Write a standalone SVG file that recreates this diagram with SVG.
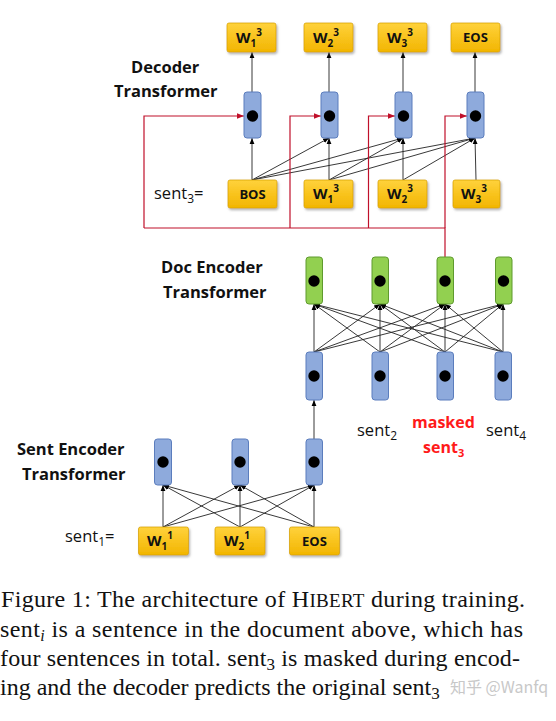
<svg xmlns="http://www.w3.org/2000/svg" width="556" height="721" viewBox="0 0 556 721">
<defs>
<style>
.lbl{font-family:"Open Sans","Liberation Sans",sans-serif;font-weight:bold;font-size:16.5px;fill:#111}
.bt{font-family:"Open Sans","Liberation Sans",sans-serif;font-weight:bold;font-size:13px;fill:#111;text-anchor:middle}
.wt{font-family:"Open Sans","Liberation Sans",sans-serif;font-weight:bold;font-size:15px;fill:#111;text-anchor:middle}
.st{font-family:"Open Sans","Liberation Sans",sans-serif;font-size:16.5px;fill:#111}
.red{font-family:"Open Sans","Liberation Sans",sans-serif;font-weight:bold;font-size:16px;fill:#ff1a1a}
.cap{font-family:"Liberation Serif","Times New Roman",serif;font-size:24px;fill:#111}
.box{fill:url(#yg);stroke:#d9a400;stroke-width:0.8;filter:url(#sh)}
.blue{fill:#8eaadc;stroke:#5b7dbd;stroke-width:1}
.green{fill:#92d050;stroke:#5f9a2e;stroke-width:1}
.ln{stroke:#222;stroke-width:0.9;fill:none;marker-end:url(#ah)}
.rl{stroke:#c0102a;stroke-width:1.2;fill:none}
</style>
<linearGradient id="yg" x1="0" y1="0" x2="0" y2="1">
<stop offset="0" stop-color="#ffd23c"/>
<stop offset="1" stop-color="#f2b500"/>
</linearGradient>
<filter id="sh" x="-20%" y="-20%" width="150%" height="160%">
<feDropShadow dx="1.2" dy="1.8" stdDeviation="1" flood-color="#777" flood-opacity="0.55"/>
</filter>
<marker id="ah" viewBox="0 0 10 10" refX="10" refY="5" markerWidth="6" markerHeight="6" markerUnits="userSpaceOnUse" orient="auto">
<path d="M0,1 L10,5 L0,9 z" fill="#000"/>
</marker>
<marker id="rah" viewBox="0 0 10 10" refX="10" refY="5" markerWidth="7" markerHeight="7" markerUnits="userSpaceOnUse" orient="auto">
<path d="M0,1 L10,5 L0,9 z" fill="#c0102a"/>
</marker>
</defs>
<rect width="556" height="721" fill="#fff"/>

<g id="connectors">
<path class="ln" d="M252,92 V52"/>
<path class="ln" d="M329,92 V52"/>
<path class="ln" d="M403,92 V52"/>
<path class="ln" d="M475,92 V52"/>
<path class="ln" d="M252,180 L252,138"/>
<path class="ln" d="M252,180 L329,138"/>
<path class="ln" d="M252,180 L403,138"/>
<path class="ln" d="M252,180 L475,138"/>
<path class="ln" d="M329,180 L329,138"/>
<path class="ln" d="M329,180 L403,138"/>
<path class="ln" d="M329,180 L475,138"/>
<path class="ln" d="M403,180 L403,138"/>
<path class="ln" d="M403,180 L475,138"/>
<path class="ln" d="M476,180 L475,138"/>
<path class="rl" d="M445,257 V228 H144"/>
<path class="rl" d="M144,228 V116 H244" marker-end="url(#rah)"/>
<path class="rl" d="M290,228 V116 H321" marker-end="url(#rah)"/>
<path class="rl" d="M368.5,228 V116 H395" marker-end="url(#rah)"/>
<path class="rl" d="M445,228 V116 H467" marker-end="url(#rah)"/>
<path class="ln" d="M314,352 L314,304"/>
<path class="ln" d="M314,352 L380,304"/>
<path class="ln" d="M314,352 L445,304"/>
<path class="ln" d="M314,352 L503,304"/>
<path class="ln" d="M380,352 L314,304"/>
<path class="ln" d="M380,352 L380,304"/>
<path class="ln" d="M380,352 L445,304"/>
<path class="ln" d="M380,352 L503,304"/>
<path class="ln" d="M445,352 L314,304"/>
<path class="ln" d="M445,352 L380,304"/>
<path class="ln" d="M445,352 L445,304"/>
<path class="ln" d="M445,352 L503,304"/>
<path class="ln" d="M503,352 L314,304"/>
<path class="ln" d="M503,352 L380,304"/>
<path class="ln" d="M503,352 L445,304"/>
<path class="ln" d="M503,352 L503,304"/>
<path class="ln" d="M314,439 V400"/>
<path class="ln" d="M163,527 L163,485"/>
<path class="ln" d="M163,527 L240,485"/>
<path class="ln" d="M163,527 L314,485"/>
<path class="ln" d="M240,527 L163,485"/>
<path class="ln" d="M240,527 L240,485"/>
<path class="ln" d="M240,527 L314,485"/>
<path class="ln" d="M314,527 L163,485"/>
<path class="ln" d="M314,527 L240,485"/>
<path class="ln" d="M314,527 L314,485"/>
</g>

<g id="decoder-label">
<text class="lbl" x="131" y="73">Decoder</text>
<text class="lbl" x="114" y="97">Transformer</text>
</g>
<g id="doc-label">
<text class="lbl" x="161" y="273">Doc Encoder</text>
<text class="lbl" x="163" y="298">Transformer</text>
</g>
<g id="sent-label">
<text class="lbl" x="17" y="455">Sent Encoder</text>
<text class="lbl" x="22" y="480">Transformer</text>
</g>

<g id="out1"><rect class="box" x="227" y="23" width="49" height="29" rx="2"/><text class="wt" x="249" y="43">W<tspan dy="4" font-size="10">1</tspan><tspan dy="-11" font-size="10">3</tspan></text></g>
<g id="out2"><rect class="box" x="304" y="23" width="49" height="29" rx="2"/><text class="wt" x="326" y="43">W<tspan dy="4" font-size="10">2</tspan><tspan dy="-11" font-size="10">3</tspan></text></g>
<g id="out3"><rect class="box" x="378" y="23" width="49" height="29" rx="2"/><text class="wt" x="400" y="43">W<tspan dy="4" font-size="10">3</tspan><tspan dy="-11" font-size="10">3</tspan></text></g>
<g id="out4"><rect class="box" x="451" y="23" width="49" height="29" rx="2"/><text class="bt" x="475.5" y="42">EOS</text></g>

<g id="dec1"><rect class="blue" x="244" y="92" width="17" height="46" rx="3"/><circle cx="252.5" cy="116" r="5.7"/></g>
<g id="dec2"><rect class="blue" x="321" y="92" width="17" height="46" rx="3"/><circle cx="329.5" cy="116" r="5.7"/></g>
<g id="dec3"><rect class="blue" x="395" y="92" width="17" height="46" rx="3"/><circle cx="403.5" cy="116" r="5.7"/></g>
<g id="dec4"><rect class="blue" x="467" y="92" width="17" height="46" rx="3"/><circle cx="475.5" cy="116" r="5.7"/></g>

<g id="sent3-label"><text class="st" x="154" y="199">sent<tspan dy="4" font-size="12">3</tspan><tspan dy="-4">=</tspan></text></g>
<g id="in1"><rect class="box" x="228" y="180" width="49" height="28" rx="2"/><text class="bt" x="252.5" y="199">BOS</text></g>
<g id="in2"><rect class="box" x="304" y="180" width="49" height="28" rx="2"/><text class="wt" x="326" y="199">W<tspan dy="4" font-size="10">1</tspan><tspan dy="-11" font-size="10">3</tspan></text></g>
<g id="in3"><rect class="box" x="378" y="180" width="49" height="28" rx="2"/><text class="wt" x="400" y="199">W<tspan dy="4" font-size="10">2</tspan><tspan dy="-11" font-size="10">3</tspan></text></g>
<g id="in4"><rect class="box" x="453" y="180" width="47" height="28" rx="2"/><text class="wt" x="474" y="199">W<tspan dy="4" font-size="10">3</tspan><tspan dy="-11" font-size="10">3</tspan></text></g>

<g id="g1"><rect class="green" x="306" y="257" width="16.5" height="47" rx="3"/><circle cx="314" cy="281" r="5.7"/></g>
<g id="g2"><rect class="green" x="372" y="257" width="16.5" height="47" rx="3"/><circle cx="380" cy="281" r="5.7"/></g>
<g id="g3"><rect class="green" x="437" y="257" width="16.5" height="47" rx="3"/><circle cx="445" cy="281" r="5.7"/></g>
<g id="g4"><rect class="green" x="495.5" y="257" width="16.5" height="47" rx="3"/><circle cx="503.5" cy="281" r="5.7"/></g>

<g id="d1"><rect class="blue" x="306" y="352" width="16.5" height="48" rx="3"/><circle cx="314" cy="376" r="5.7"/></g>
<g id="d2"><rect class="blue" x="372" y="352" width="16.5" height="48" rx="3"/><circle cx="380" cy="376" r="5.7"/></g>
<g id="d3"><rect class="blue" x="437" y="352" width="16.5" height="48" rx="3"/><circle cx="445" cy="376" r="5.7"/></g>
<g id="d4"><rect class="blue" x="495" y="352" width="16.5" height="48" rx="3"/><circle cx="503" cy="376" r="5.7"/></g>

<g id="doc-sent-labels">
<text class="st" x="357" y="436" font-size="17.5">sent<tspan dy="4" font-size="12">2</tspan></text>
<text class="red" x="412" y="428">masked</text>
<text class="red" x="423" y="453">sent<tspan dy="4" font-size="11">3</tspan></text>
<text class="st" x="486" y="436" font-size="17.5">sent<tspan dy="4" font-size="12">4</tspan></text>
</g>

<g id="s1"><rect class="blue" x="154.5" y="439" width="17" height="46" rx="3"/><circle cx="163" cy="462" r="5.7"/></g>
<g id="s2"><rect class="blue" x="232" y="439" width="16.5" height="46" rx="3"/><circle cx="240" cy="462" r="5.7"/></g>
<g id="s3"><rect class="blue" x="306" y="439" width="16.5" height="46" rx="3"/><circle cx="314" cy="462" r="5.7"/></g>

<g id="sent1-label"><text class="st" x="65" y="542">sent<tspan dy="4" font-size="12">1</tspan><tspan dy="-4">=</tspan></text></g>
<g id="w1"><rect class="box" x="138.5" y="527" width="50" height="28" rx="2"/><text class="wt" x="160" y="546">W<tspan dy="4" font-size="10">1</tspan><tspan dy="-11" font-size="10">1</tspan></text></g>
<g id="w2"><rect class="box" x="215" y="527" width="50" height="28" rx="2"/><text class="wt" x="237" y="546">W<tspan dy="4" font-size="10">2</tspan><tspan dy="-11" font-size="10">1</tspan></text></g>
<g id="w3"><rect class="box" x="289.5" y="527" width="50" height="28" rx="2"/><text class="bt" x="314.5" y="546">EOS</text></g>

<g id="caption">
<text class="cap" x="1" y="607" textLength="524" lengthAdjust="spacing">Figure 1: The architecture of H<tspan font-size="19">IBERT</tspan> during training.</text>
<text class="cap" x="0" y="637" textLength="523" lengthAdjust="spacing">sent<tspan dy="4" font-size="16" font-style="italic">i</tspan><tspan dy="-4"> is a sentence in the document above, which has</tspan></text>
<text class="cap" x="0" y="666" textLength="520" lengthAdjust="spacing">four sentences in total. sent<tspan dy="4" font-size="17">3</tspan><tspan dy="-4"> is masked during encod-</tspan></text>
<text class="cap" x="0" y="695">ing and the decoder predicts the original sent<tspan dy="4" font-size="17">3</tspan></text>
<text x="450" y="693" font-family="Noto Sans CJK SC, Noto Sans, sans-serif" font-size="16" fill="#c8c8c8" stroke="#ffffff" stroke-width="0.6" paint-order="stroke">知乎 @Wanfq</text>
</g>
</svg>
